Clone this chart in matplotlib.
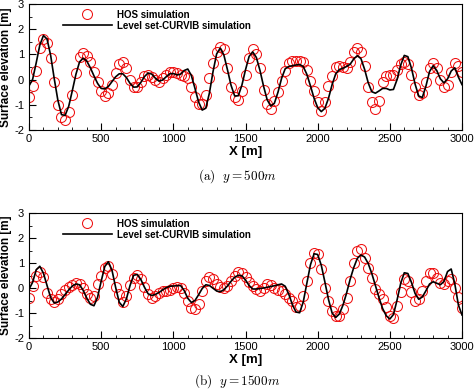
import numpy as np
import matplotlib
matplotlib.use('Agg')
import matplotlib.pyplot as plt
from matplotlib.ticker import MultipleLocator

plt.rcParams['font.family'] = ['Liberation Sans', 'DejaVu Sans']
plt.rcParams['mathtext.fontset'] = 'cm'
plt.rcParams['axes.unicode_minus'] = False

# x positions (m), one sample every 25 m
x = np.arange(0, 3001, 25)

# (a) y = 500 m
hos_a = [-0.70, -0.25, 0.35, 1.25, 1.60, 1.45, 0.85, -0.10, -1.00, -1.50,
         -1.60, -1.30, -0.60, 0.25, 0.90, 1.05, 0.95, 0.70, 0.30, -0.10,
         -0.45, -0.65, -0.55, -0.20, 0.25, 0.60, 0.70, 0.45, 0.00, -0.30,
         -0.30, -0.10, 0.15, 0.20, 0.10, 0.00, -0.10, 0.05, 0.20, 0.30,
         0.30, 0.25, 0.20, 0.15, 0.05, -0.30, -0.70, -0.95, -0.95, -0.60,
         0.05, 0.65, 1.10, 1.30, 1.20, 0.45, -0.30, -0.70, -0.80, -0.45,
         0.20, 0.85, 1.20, 1.00, 0.45, -0.40, -0.95, -1.15, -0.85, -0.50,
         -0.05, 0.35, 0.65, 0.73, 0.75, 0.75, 0.70, 0.40, -0.05, -0.45,
         -0.90, -1.25, -0.90, -0.25, 0.15, 0.50, 0.55, 0.50, 0.45, 0.70,
         1.10, 1.25, 1.10, 0.55, -0.30, -0.90, -1.15, -0.85, -0.10, 0.15,
         0.20, 0.20, 0.40, 0.60, 0.70, 0.60, 0.20, -0.30, -0.60, -0.55,
         -0.10, 0.45, 0.65, 0.45, 0.00, -0.30, -0.20, 0.30, 0.65, 0.55,
         0.30]
ls_a = [-0.25, 0.01, 0.67, 1.37, 1.75, 1.61, 0.96, 0.03, -0.82, -1.39,
        -1.42, -1.06, -0.44, 0.21, 0.70, 0.85, 0.74, 0.47, 0.15, -0.15,
        -0.35, -0.37, -0.27, -0.08, 0.11, 0.23, 0.23, 0.08, -0.15, -0.30,
        -0.29, -0.11, 0.12, 0.26, 0.22, 0.06, -0.06, -0.02, 0.11, 0.23,
        0.24, 0.19, 0.21, 0.36, 0.42, 0.16, -0.35, -0.89, -1.21, -1.13,
        -0.53, 0.32, 1.02, 1.25, 0.98, 0.39, -0.23, -0.65, -0.64, -0.22,
        0.39, 0.92, 1.10, 0.88, 0.37, -0.26, -0.80, -1.05, -0.94, -0.50,
        0.05, 0.43, 0.52, 0.55, 0.58, 0.60, 0.52, 0.21, -0.25, -0.74,
        -1.11, -1.27, -1.14, -0.74, -0.20, 0.23, 0.40, 0.45, 0.52, 0.61,
        0.82, 0.95, 0.83, 0.41, -0.12, -0.48, -0.54, -0.45, -0.35, -0.35,
        -0.41, -0.39, 0.00, 0.57, 0.96, 0.91, 0.45, -0.18, -0.65, -0.71,
        -0.26, 0.32, 0.55, 0.36, 0.03, -0.13, 0.03, 0.34, 0.47, 0.10,
        -0.20]

# (b) y = 1500 m
hos_b = [-0.40, 0.10, 0.50, 0.65, 0.45, -0.20, -0.45, -0.55, -0.45, -0.22,
         -0.08, 0.05, 0.12, 0.19, 0.17, 0.00, -0.25, -0.40, -0.30, 0.15,
         0.50, 0.82, 0.90, 0.55, 0.05, -0.25, -0.55, -0.30, 0.12, 0.42,
         0.52, 0.35, 0.05, -0.22, -0.40, -0.30, -0.18, -0.12, -0.10, -0.06,
         0.00, 0.05, 0.00, -0.20, -0.50, -0.78, -0.85, -0.65, -0.10, 0.30,
         0.45, 0.38, 0.15, 0.03, 0.00, 0.10, 0.30, 0.50, 0.65, 0.60,
         0.45, 0.25, 0.10, -0.03, -0.10, 0.00, 0.18, 0.12, 0.00, -0.08,
         -0.12, -0.22, -0.38, -0.52, -0.75, -0.70, -0.30, 0.30, 1.00, 1.40,
         1.35, 0.78, 0.00, -0.50, -0.90, -1.12, -1.10, -0.85, -0.40, 0.30,
         1.00, 1.50, 1.55, 1.20, 0.80, 0.40, -0.02, -0.25, -0.45, -0.75,
         -1.10, -1.20, -0.70, -0.15, 0.35, 0.30, -0.15, -0.50, -0.45, -0.10,
         0.30, 0.60, 0.62, 0.42, 0.20, 0.15, 0.30, 0.38, 0.00, -0.35,
         -0.80]
ls_b = [-0.05, 0.23, 0.73, 0.87, 0.59, 0.10, -0.38, -0.60, -0.56, -0.44,
        -0.26, -0.08, 0.08, 0.16, 0.13, -0.09, -0.40, -0.65, -0.71, -0.37,
        0.27, 0.86, 1.05, 0.71, 0.03, -0.57, -0.74, -0.43, 0.10, 0.51,
        0.54, 0.34, 0.03, -0.23, -0.30, -0.26, -0.18, -0.08, 0.01, 0.07,
        0.08, 0.09, 0.10, -0.10, -0.41, -0.58, -0.50, -0.27, -0.02, 0.13,
        0.10, -0.01, -0.12, -0.15, -0.07, 0.08, 0.27, 0.43, 0.51, 0.49,
        0.32, 0.10, -0.04, -0.04, -0.02, 0.00, 0.03, 0.06, 0.09, 0.13,
        0.16, 0.07, -0.25, -0.67, -0.96, -0.99, -0.56, 0.19, 0.93, 1.37,
        1.34, 0.91, 0.24, -0.46, -1.00, -1.18, -1.04, -0.69, -0.21, 0.35,
        0.82, 1.19, 1.32, 1.24, 0.98, 0.58, 0.10, -0.39, -0.82, -1.11,
        -1.24, -1.06, -0.48, 0.18, 0.61, 0.58, 0.22, -0.22, -0.45, -0.36,
        -0.11, 0.16, 0.25, 0.19, 0.13, 0.26, 0.66, 0.76, 0.17, -0.68,
        -1.08]

panels = [(hos_a, ls_a, r'$\mathrm{(a)}\ \ y = 500m$'),
          (hos_b, ls_b, r'$\mathrm{(b)}\ \ y = 1500m$')]

fig = plt.figure(figsize=(4.74, 3.89), dpi=100)
axes = [fig.add_axes([0.0612, 0.6658, 0.9135, 0.3239]),
        fig.add_axes([0.0612, 0.1311, 0.9135, 0.3213])]
caption_y = [0.548, 0.020]

for ax, (hos, ls, cap), cy in zip(axes, panels, caption_y):
    ax.plot(x, hos, 'o', mfc='none', mec='#ee1111', mew=0.75, ms=7.2,
            label='HOS simulation')
    ax.plot(x, ls, '-', color='black', lw=1.2,
            label='Level set-CURVIB simulation')
    ax.set_xlim(0, 3000)
    ax.set_ylim(-2, 3)
    ax.xaxis.set_major_locator(MultipleLocator(500))
    ax.xaxis.set_minor_locator(MultipleLocator(100))
    ax.yaxis.set_major_locator(MultipleLocator(1))
    ax.yaxis.set_minor_locator(MultipleLocator(0.5))
    ax.tick_params(which='both', direction='in', top=False, right=False,
                   labelsize=8)
    ax.tick_params(which='major', length=5, width=0.8)
    ax.tick_params(which='minor', length=2.5, width=0.6)
    ax.tick_params(axis='x', pad=3)
    ax.tick_params(axis='y', pad=3.5)
    for s in ax.spines.values():
        s.set_linewidth(0.8)
    ax.set_xlabel('X [m]', fontsize=9.5, fontweight='bold')
    ax.set_ylabel('Surface elevation [m]', fontsize=8.5, fontweight='bold')
    ax.xaxis.set_label_coords(0.5, -0.125)
    ax.yaxis.set_label_coords(-0.039, 0.5)
    ax.legend(loc='upper left', bbox_to_anchor=(0.0785, 0.955), frameon=False,
              prop={'weight': 'bold', 'size': 7}, handlelength=5.0,
              handletextpad=0.6, labelspacing=0.1, borderpad=0,
              borderaxespad=0, numpoints=1)
    fig.text(0.5, cy, cap, ha='center', va='center', fontsize=9.5)

fig.savefig('out.png', dpi=100)
